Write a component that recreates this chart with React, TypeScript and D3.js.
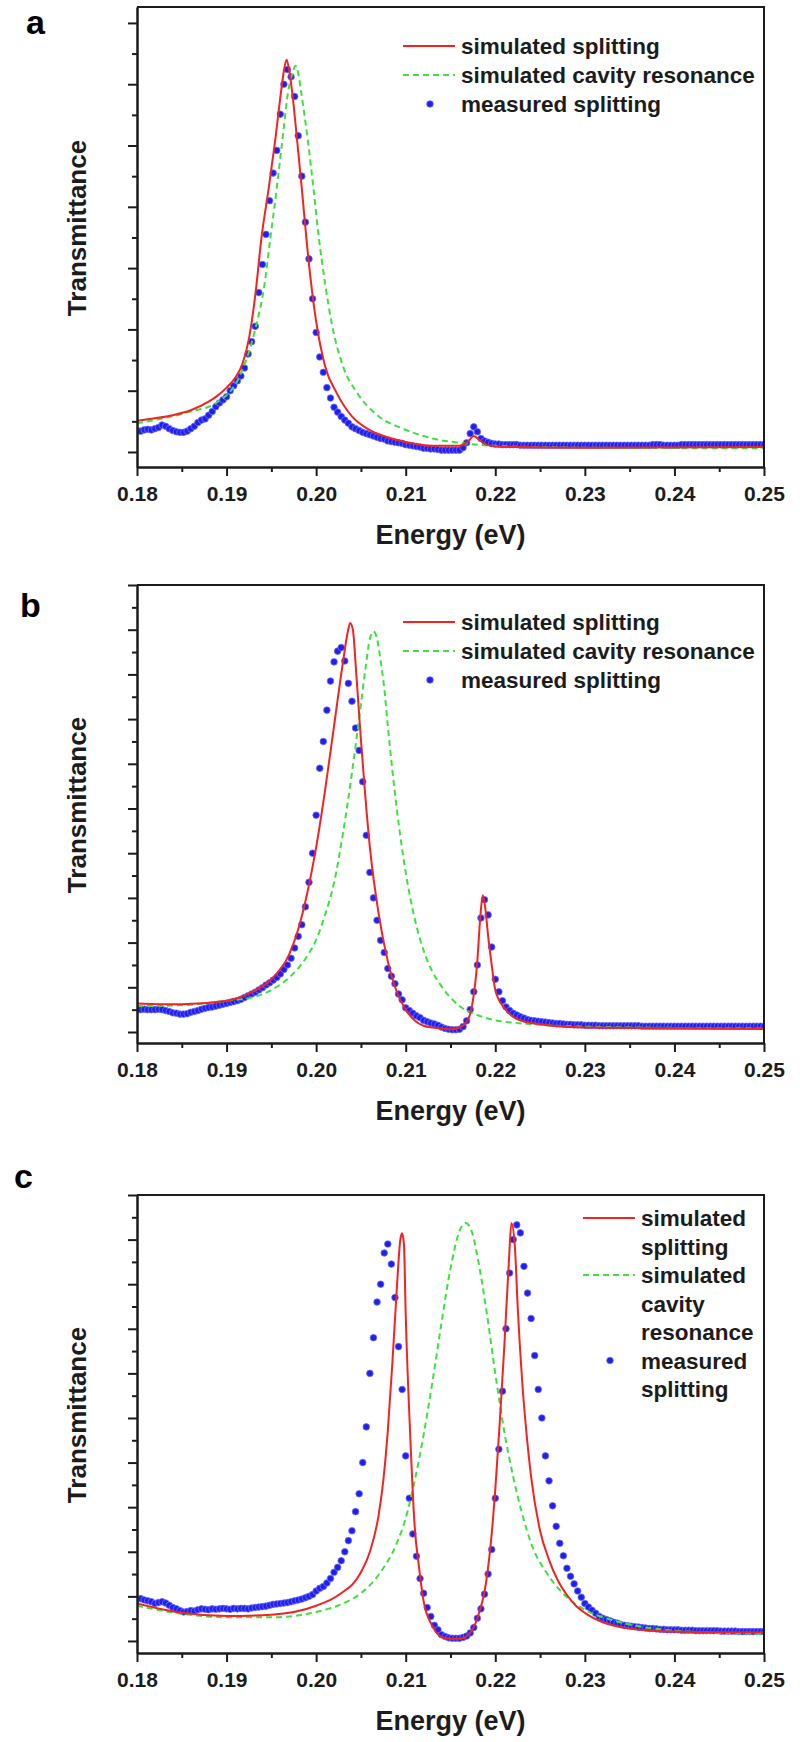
import React, { useRef, useEffect } from 'react';
import * as d3 from 'd3';

// FTIR sampling grid shared by the three measured spectra (eV)
const measuredEnergy = [
  0.1800, 0.1804, 0.1808, 0.1812, 0.1816, 0.1820, 0.1824, 0.1828, 0.1832, 0.1836,
  0.1840, 0.1844, 0.1848, 0.1852, 0.1856, 0.1860, 0.1864, 0.1868, 0.1872, 0.1876,
  0.1880, 0.1884, 0.1888, 0.1892, 0.1896, 0.1900, 0.1904, 0.1908, 0.1912, 0.1916,
  0.1920, 0.1924, 0.1928, 0.1932, 0.1936, 0.1940, 0.1944, 0.1948, 0.1952, 0.1956,
  0.1960, 0.1964, 0.1968, 0.1972, 0.1976, 0.1980, 0.1984, 0.1988, 0.1992, 0.1996,
  0.2000, 0.2004, 0.2008, 0.2012, 0.2016, 0.2020, 0.2024, 0.2028, 0.2032, 0.2036,
  0.2040, 0.2044, 0.2048, 0.2052, 0.2056, 0.2060, 0.2064, 0.2068, 0.2072, 0.2076,
  0.2080, 0.2084, 0.2088, 0.2092, 0.2096, 0.2100, 0.2104, 0.2108, 0.2112, 0.2116,
  0.2120, 0.2124, 0.2128, 0.2132, 0.2136, 0.2140, 0.2144, 0.2148, 0.2152, 0.2156,
  0.2160, 0.2164, 0.2168, 0.2172, 0.2176, 0.2180, 0.2184, 0.2188, 0.2192, 0.2196,
  0.2200, 0.2204, 0.2208, 0.2212, 0.2216, 0.2220, 0.2224, 0.2228, 0.2232, 0.2236,
  0.2240, 0.2244, 0.2248, 0.2252, 0.2256, 0.2260, 0.2264, 0.2268, 0.2272, 0.2276,
  0.2280, 0.2284, 0.2288, 0.2292, 0.2296, 0.2300, 0.2304, 0.2308, 0.2312, 0.2316,
  0.2320, 0.2324, 0.2328, 0.2332, 0.2336, 0.2340, 0.2344, 0.2348, 0.2352, 0.2356,
  0.2360, 0.2364, 0.2368, 0.2372, 0.2376, 0.2380, 0.2384, 0.2388, 0.2392, 0.2396,
  0.2400, 0.2404, 0.2408, 0.2412, 0.2416, 0.2420, 0.2424, 0.2428, 0.2432, 0.2436,
  0.2440, 0.2444, 0.2448, 0.2452, 0.2456, 0.2460, 0.2464, 0.2468, 0.2472, 0.2476,
  0.2480, 0.2484, 0.2488, 0.2492, 0.2496, 0.2500,
];

// measured transmittance, panel a
const measuredA = [
  0.035, 0.034, 0.036, 0.037, 0.036, 0.038, 0.040, 0.044, 0.042, 0.038,
  0.035, 0.033, 0.032, 0.032, 0.034, 0.038, 0.042, 0.048, 0.052, 0.054,
  0.060, 0.066, 0.074, 0.080, 0.085, 0.090, 0.100, 0.108, 0.116, 0.124,
  0.137, 0.160, 0.180, 0.205, 0.260, 0.306, 0.355, 0.410, 0.455, 0.492,
  0.551, 0.600, 0.624, 0.612, 0.580, 0.516, 0.450, 0.375, 0.315, 0.250,
  0.195, 0.155, 0.130, 0.105, 0.088, 0.073, 0.065, 0.058, 0.052, 0.047,
  0.041, 0.038, 0.035, 0.032, 0.030, 0.028, 0.026, 0.024, 0.022, 0.021,
  0.018, 0.017, 0.016, 0.015, 0.014, 0.012, 0.011, 0.010, 0.009, 0.008,
  0.006, 0.006, 0.005, 0.005, 0.004, 0.003, 0.003, 0.003, 0.003, 0.003,
  0.003, 0.007, 0.015, 0.030, 0.041, 0.033, 0.022, 0.018, 0.016, 0.014,
  0.013, 0.013, 0.012, 0.012, 0.012, 0.012, 0.012, 0.011, 0.011, 0.011,
  0.011, 0.011, 0.011, 0.011, 0.011, 0.011, 0.011, 0.011, 0.011, 0.011,
  0.011, 0.011, 0.011, 0.011, 0.011, 0.011, 0.011, 0.011, 0.011, 0.011,
  0.011, 0.011, 0.011, 0.011, 0.011, 0.011, 0.011, 0.011, 0.011, 0.011,
  0.011, 0.011, 0.011, 0.011, 0.012, 0.012, 0.012, 0.011, 0.011, 0.011,
  0.011, 0.011, 0.012, 0.012, 0.012, 0.012, 0.012, 0.012, 0.012, 0.012,
  0.012, 0.012, 0.012, 0.012, 0.012, 0.012, 0.012, 0.012, 0.012, 0.012,
  0.012, 0.012, 0.012, 0.012, 0.012, 0.012,
];

// measured transmittance, panel b
const measuredB = [
  0.050, 0.050, 0.051, 0.050, 0.050, 0.050, 0.051, 0.050, 0.048, 0.046,
  0.043, 0.042, 0.040, 0.040, 0.041, 0.044, 0.046, 0.048, 0.051, 0.053,
  0.055, 0.056, 0.058, 0.060, 0.062, 0.064, 0.066, 0.068, 0.070, 0.073,
  0.077, 0.081, 0.085, 0.089, 0.094, 0.099, 0.105, 0.110, 0.116, 0.122,
  0.130, 0.140, 0.150, 0.165, 0.188, 0.214, 0.240, 0.280, 0.335, 0.400,
  0.485, 0.590, 0.650, 0.720, 0.785, 0.828, 0.852, 0.860, 0.830, 0.780,
  0.740, 0.680, 0.630, 0.560, 0.440, 0.357, 0.300, 0.250, 0.205, 0.178,
  0.142, 0.125, 0.108, 0.085, 0.072, 0.054, 0.048, 0.042, 0.036, 0.032,
  0.026, 0.023, 0.020, 0.018, 0.015, 0.011, 0.008, 0.006, 0.005, 0.005,
  0.006, 0.012, 0.025, 0.050, 0.090, 0.150, 0.255, 0.296, 0.262, 0.190,
  0.118, 0.090, 0.070, 0.056, 0.048, 0.042, 0.038, 0.034, 0.031, 0.028,
  0.026, 0.025, 0.024, 0.023, 0.022, 0.021, 0.020, 0.019, 0.019, 0.018,
  0.017, 0.017, 0.016, 0.016, 0.016, 0.015, 0.015, 0.015, 0.015, 0.014,
  0.014, 0.014, 0.014, 0.014, 0.014, 0.014, 0.014, 0.014, 0.014, 0.014,
  0.014, 0.013, 0.013, 0.013, 0.013, 0.013, 0.013, 0.013, 0.013, 0.013,
  0.013, 0.013, 0.013, 0.013, 0.013, 0.013, 0.013, 0.013, 0.013, 0.013,
  0.013, 0.013, 0.013, 0.013, 0.013, 0.013, 0.013, 0.013, 0.013, 0.013,
  0.013, 0.013, 0.013, 0.013, 0.013, 0.013,
];

// measured transmittance, panel c
const measuredC = [
  0.093, 0.095, 0.092, 0.090, 0.088, 0.084, 0.086, 0.088, 0.085, 0.080,
  0.075, 0.072, 0.068, 0.065, 0.066, 0.068, 0.067, 0.070, 0.072, 0.071,
  0.070, 0.072, 0.071, 0.072, 0.073, 0.072, 0.071, 0.073, 0.072, 0.073,
  0.073, 0.072, 0.074, 0.075, 0.076, 0.077, 0.078, 0.080, 0.082, 0.083,
  0.084, 0.085, 0.086, 0.088, 0.090, 0.092, 0.094, 0.097, 0.100, 0.104,
  0.112, 0.118, 0.122, 0.130, 0.140, 0.154, 0.165, 0.180, 0.200, 0.225,
  0.247, 0.290, 0.330, 0.400, 0.480, 0.600, 0.680, 0.760, 0.800, 0.870,
  0.890, 0.845, 0.770, 0.660, 0.564, 0.415, 0.320, 0.240, 0.190, 0.140,
  0.107, 0.075, 0.055, 0.035, 0.025, 0.014, 0.010, 0.007, 0.006, 0.006,
  0.006, 0.008, 0.011, 0.018, 0.030, 0.051, 0.072, 0.105, 0.150, 0.205,
  0.320, 0.430, 0.560, 0.700, 0.825, 0.900, 0.933, 0.915, 0.840, 0.780,
  0.723, 0.640, 0.564, 0.500, 0.415, 0.359, 0.303, 0.257, 0.219, 0.191,
  0.163, 0.145, 0.128, 0.112, 0.098, 0.084, 0.076, 0.069, 0.062, 0.055,
  0.051, 0.048, 0.045, 0.042, 0.040, 0.037, 0.035, 0.034, 0.033, 0.032,
  0.031, 0.030, 0.029, 0.028, 0.028, 0.027, 0.026, 0.026, 0.025, 0.025,
  0.025, 0.025, 0.024, 0.024, 0.024, 0.024, 0.023, 0.023, 0.023, 0.023,
  0.023, 0.023, 0.023, 0.022, 0.022, 0.022, 0.022, 0.022, 0.021, 0.021,
  0.021, 0.021, 0.021, 0.021, 0.021, 0.021,
];

// simulated splitting (red) and bare cavity resonance (green), panel a
const splitA_E = [0.1800, 0.1820, 0.1840, 0.1860, 0.1880, 0.1890, 0.1900, 0.1910, 0.1918, 0.1925, 0.1932, 0.1939, 0.1947, 0.1954, 0.1961, 0.1964, 0.1967, 0.1970, 0.1973, 0.1979, 0.1984, 0.1989, 0.1994, 0.2000, 0.2010, 0.2023, 0.2040, 0.2057, 0.2080, 0.2103, 0.2130, 0.2160, 0.2170, 0.2176, 0.2182, 0.2190, 0.2200, 0.2300, 0.2500];
const splitA_T = [0.051, 0.055, 0.060, 0.068, 0.082, 0.092, 0.105, 0.122, 0.145, 0.185, 0.255, 0.350, 0.430, 0.505, 0.590, 0.622, 0.640, 0.622, 0.590, 0.505, 0.430, 0.350, 0.280, 0.213, 0.140, 0.096, 0.058, 0.038, 0.024, 0.015, 0.010, 0.010, 0.018, 0.026, 0.020, 0.012, 0.009, 0.007, 0.008];
const cavA_E = [0.1800, 0.1830, 0.1860, 0.1887, 0.1915, 0.1932, 0.1942, 0.1949, 0.1956, 0.1962, 0.1969, 0.1973, 0.1977, 0.1980, 0.1983, 0.1991, 0.1997, 0.2003, 0.2010, 0.2017, 0.2030, 0.2046, 0.2070, 0.2097, 0.2130, 0.2160, 0.2200, 0.2300, 0.2500];
const cavA_T = [0.047, 0.055, 0.066, 0.079, 0.125, 0.200, 0.270, 0.350, 0.430, 0.505, 0.590, 0.615, 0.630, 0.618, 0.590, 0.505, 0.430, 0.350, 0.275, 0.213, 0.140, 0.096, 0.058, 0.038, 0.022, 0.015, 0.010, 0.007, 0.006];

// panel b
const splitB_E = [0.1800, 0.1850, 0.1900, 0.1925, 0.1950, 0.1970, 0.1980, 0.1990, 0.2000, 0.2010, 0.2020, 0.2030, 0.2035, 0.2038, 0.2041, 0.2045, 0.2050, 0.2055, 0.2060, 0.2070, 0.2080, 0.2090, 0.2100, 0.2110, 0.2120, 0.2130, 0.2140, 0.2150, 0.2160, 0.2170, 0.2175, 0.2180, 0.2183, 0.2186, 0.2189, 0.2192, 0.2196, 0.2200, 0.2210, 0.2220, 0.2240, 0.2300, 0.2500];
const splitB_T = [0.064, 0.062, 0.070, 0.086, 0.118, 0.174, 0.230, 0.310, 0.413, 0.541, 0.685, 0.828, 0.892, 0.915, 0.900, 0.796, 0.653, 0.525, 0.413, 0.262, 0.158, 0.090, 0.050, 0.026, 0.014, 0.010, 0.008, 0.006, 0.010, 0.030, 0.070, 0.160, 0.250, 0.306, 0.275, 0.215, 0.150, 0.094, 0.054, 0.034, 0.020, 0.010, 0.007];
const cavB_E = [0.1800, 0.1850, 0.1900, 0.1930, 0.1950, 0.1970, 0.1990, 0.2000, 0.2010, 0.2020, 0.2030, 0.2040, 0.2050, 0.2055, 0.2060, 0.2064, 0.2068, 0.2072, 0.2076, 0.2080, 0.2090, 0.2100, 0.2110, 0.2120, 0.2130, 0.2140, 0.2160, 0.2180, 0.2200, 0.2220, 0.2250, 0.2300, 0.2500];
const cavB_T = [0.058, 0.060, 0.070, 0.078, 0.094, 0.122, 0.170, 0.206, 0.262, 0.334, 0.445, 0.580, 0.733, 0.812, 0.880, 0.896, 0.880, 0.830, 0.770, 0.685, 0.500, 0.357, 0.254, 0.182, 0.134, 0.102, 0.058, 0.038, 0.026, 0.021, 0.016, 0.012, 0.008];

// panel c
const splitC_E = [0.1800, 0.1850, 0.1900, 0.1950, 0.2000, 0.2025, 0.2050, 0.2060, 0.2070, 0.2075, 0.2080, 0.2085, 0.2090, 0.2094, 0.2096, 0.2098, 0.2100, 0.2105, 0.2110, 0.2115, 0.2120, 0.2130, 0.2140, 0.2150, 0.2160, 0.2170, 0.2180, 0.2190, 0.2195, 0.2200, 0.2205, 0.2210, 0.2215, 0.2218, 0.2222, 0.2225, 0.2230, 0.2235, 0.2240, 0.2250, 0.2260, 0.2270, 0.2280, 0.2290, 0.2300, 0.2320, 0.2350, 0.2400, 0.2500];
const splitC_T = [0.084, 0.063, 0.056, 0.059, 0.079, 0.103, 0.154, 0.200, 0.285, 0.360, 0.471, 0.620, 0.788, 0.900, 0.914, 0.890, 0.732, 0.462, 0.257, 0.163, 0.089, 0.033, 0.009, 0.005, 0.005, 0.014, 0.051, 0.135, 0.219, 0.340, 0.490, 0.658, 0.844, 0.937, 0.880, 0.750, 0.583, 0.462, 0.368, 0.247, 0.182, 0.135, 0.103, 0.079, 0.063, 0.042, 0.028, 0.021, 0.019];
const cavC_E = [0.1800, 0.1850, 0.1900, 0.1950, 0.2000, 0.2030, 0.2050, 0.2070, 0.2090, 0.2100, 0.2110, 0.2120, 0.2130, 0.2140, 0.2150, 0.2160, 0.2167, 0.2175, 0.2180, 0.2190, 0.2200, 0.2210, 0.2220, 0.2230, 0.2240, 0.2260, 0.2280, 0.2300, 0.2330, 0.2360, 0.2400, 0.2500];
const cavC_T = [0.079, 0.061, 0.053, 0.053, 0.065, 0.084, 0.107, 0.149, 0.219, 0.275, 0.359, 0.462, 0.583, 0.714, 0.835, 0.919, 0.937, 0.910, 0.863, 0.742, 0.600, 0.470, 0.368, 0.285, 0.219, 0.145, 0.098, 0.070, 0.047, 0.033, 0.023, 0.016];

const xMajorTicks = [0.18, 0.19, 0.2, 0.21, 0.22, 0.23, 0.24, 0.25];
const xMinorTicks = [0.185, 0.195, 0.205, 0.215, 0.225, 0.235, 0.245];
const yMajorShort = [0, 0.1, 0.2, 0.3, 0.4, 0.5, 0.6, 0.7];
const yMinorShort = [0.05, 0.15, 0.25, 0.35, 0.45, 0.55, 0.65];
const yMajorFull = [0, 0.1, 0.2, 0.3, 0.4, 0.5, 0.6, 0.7, 0.8, 0.9, 1.0];
const yMinorFull = [0.05, 0.15, 0.25, 0.35, 0.45, 0.55, 0.65, 0.75, 0.85, 0.95];

const legendWide = [['simulated splitting'], ['simulated cavity resonance'], ['measured splitting']];
const legendNarrow = [['simulated', 'splitting'], ['simulated', 'cavity', 'resonance'], ['measured', 'splitting']];

const FONT = '"Liberation Sans", Arial, sans-serif';
const INK = '#1c1c1c';
const RED = '#f52222';
const GREEN = '#3ee23e';
const BLUE = '#2020ee';
const PLOT_LEFT = 137;
const PLOT_RIGHT = 764;

const panels = [
  {
    id: 'a', top: 7, bottom: 467, yDomain: [-0.0245, 0.726],
    yMajor: yMajorShort, yMinor: yMinorShort,
    measured: measuredA, splitE: splitA_E, splitT: splitA_T, cavE: cavA_E, cavT: cavA_T,
    legend: legendWide, legendX: 403, legendY: 46, legendStep: 29, letterX: 26, letterY: 34,
  },
  {
    id: 'b', top: 585, bottom: 1043, yDomain: [-0.0246, 1.0],
    yMajor: yMajorFull, yMinor: yMinorFull,
    measured: measuredB, splitE: splitB_E, splitT: splitB_T, cavE: cavB_E, cavT: cavB_T,
    legend: legendWide, legendX: 403, legendY: 622, legendStep: 29, letterX: 20, letterY: 617,
  },
  {
    id: 'c', top: 1195, bottom: 1653, yDomain: [-0.027, 1.0],
    yMajor: yMajorFull, yMinor: yMinorFull,
    measured: measuredC, splitE: splitC_E, splitT: splitC_T, cavE: cavC_E, cavT: cavC_T,
    legend: legendNarrow, legendX: 583, legendY: 1218, legendStep: 28.5, letterX: 14, letterY: 1188,
  },
];

function styleAxis(axisG, withText) {
  axisG.attr('font-family', FONT);
  axisG.select('.domain').attr('stroke', INK).attr('stroke-width', 2);
  axisG.selectAll('.tick line').attr('stroke', INK).attr('stroke-width', 2);
  if (withText) {
    axisG.selectAll('.tick text')
      .attr('fill', INK)
      .style('font-size', '21px')
      .style('font-weight', 'bold');
  }
}

function drawPanel(svg, p) {
  const x = d3.scaleLinear().domain([0.18, 0.25]).range([PLOT_LEFT, PLOT_RIGHT]);
  const y = d3.scaleLinear().domain(p.yDomain).range([p.bottom, p.top]);
  const g = svg.append('g');

  // Clip traces to the frame
  const clipId = `clip-${p.id}`;
  g.append('clipPath').attr('id', clipId)
    .append('rect')
    .attr('x', PLOT_LEFT).attr('y', p.top)
    .attr('width', PLOT_RIGHT - PLOT_LEFT).attr('height', p.bottom - p.top);
  const plot = g.append('g').attr('clip-path', `url(#${clipId})`);

  // Measured points
  plot.selectAll('circle')
    .data(measuredEnergy.map((e, i) => [e, p.measured[i]]))
    .join('circle')
    .attr('cx', d => x(d[0]))
    .attr('cy', d => y(d[1]))
    .attr('r', 3.3)
    .attr('fill', BLUE)
    .attr('stroke', '#6d6dff')
    .attr('stroke-width', 0.8);

  const line = d3.line()
    .x(d => x(d[0]))
    .y(d => y(d[1]))
    .curve(d3.curveMonotoneX);

  // Bare cavity resonance
  plot.append('path')
    .datum(d3.zip(p.cavE, p.cavT))
    .attr('fill', 'none')
    .attr('stroke', GREEN)
    .attr('stroke-width', 2)
    .attr('stroke-dasharray', '6,4')
    .attr('d', line);

  // Simulated splitting
  plot.append('path')
    .datum(d3.zip(p.splitE, p.splitT))
    .attr('fill', 'none')
    .attr('stroke', RED)
    .attr('stroke-width', 2)
    .attr('d', line);

  // Frame: top and right edges
  g.append('path')
    .attr('d', `M${PLOT_LEFT},${p.top}H${PLOT_RIGHT}V${p.bottom}`)
    .attr('fill', 'none')
    .attr('stroke', INK)
    .attr('stroke-width', 2);

  // x axis
  const xMinor = g.append('g')
    .attr('transform', `translate(0,${p.bottom})`)
    .call(d3.axisBottom(x).tickValues(xMinorTicks).tickSize(5).tickSizeOuter(0).tickFormat(() => ''));
  styleAxis(xMinor, false);
  const xMajor = g.append('g')
    .attr('transform', `translate(0,${p.bottom})`)
    .call(d3.axisBottom(x).tickValues(xMajorTicks).tickSize(9).tickSizeOuter(0).tickPadding(10).tickFormat(d3.format('.2f')));
  styleAxis(xMajor, true);

  // y axis, ticks only
  const yMinor = g.append('g')
    .attr('transform', `translate(${PLOT_LEFT},0)`)
    .call(d3.axisLeft(y).tickValues(p.yMinor).tickSize(5).tickSizeOuter(0).tickFormat(() => ''));
  styleAxis(yMinor, false);
  const yMajor = g.append('g')
    .attr('transform', `translate(${PLOT_LEFT},0)`)
    .call(d3.axisLeft(y).tickValues(p.yMajor).tickSize(9).tickSizeOuter(0).tickFormat(() => ''));
  styleAxis(yMajor, false);

  // Axis titles
  g.append('text')
    .attr('x', (PLOT_LEFT + PLOT_RIGHT) / 2)
    .attr('y', p.bottom + 77)
    .attr('text-anchor', 'middle')
    .attr('fill', INK)
    .style('font-family', FONT)
    .style('font-size', '27px')
    .style('font-weight', 'bold')
    .text('Energy (eV)');

  g.append('text')
    .attr('transform', `translate(86,${(p.top + p.bottom) / 2 - 9}) rotate(-90)`)
    .attr('text-anchor', 'middle')
    .attr('fill', INK)
    .style('font-family', FONT)
    .style('font-size', '26px')
    .style('font-weight', 'bold')
    .text('Transmittance');

  // Panel letter
  g.append('text')
    .attr('x', p.letterX)
    .attr('y', p.letterY)
    .attr('fill', '#000')
    .style('font-family', FONT)
    .style('font-size', '34px')
    .style('font-weight', 'bold')
    .text(p.id);

  // Legend
  const legend = g.append('g');
  let row = 0;
  p.legend.forEach((lines, i) => {
    const cy = p.legendY + row * p.legendStep;
    if (i === 0) {
      legend.append('line')
        .attr('x1', p.legendX).attr('x2', p.legendX + 52)
        .attr('y1', cy).attr('y2', cy)
        .attr('stroke', RED).attr('stroke-width', 2);
    } else if (i === 1) {
      legend.append('line')
        .attr('x1', p.legendX).attr('x2', p.legendX + 52)
        .attr('y1', cy).attr('y2', cy)
        .attr('stroke', GREEN).attr('stroke-width', 2)
        .attr('stroke-dasharray', '6,4');
    } else {
      legend.append('circle')
        .attr('cx', p.legendX + 27).attr('cy', cy)
        .attr('r', 3.3)
        .attr('fill', BLUE)
        .attr('stroke', '#6d6dff')
        .attr('stroke-width', 0.8);
    }
    lines.forEach(txt => {
      legend.append('text')
        .attr('x', p.legendX + 58)
        .attr('y', p.legendY + row * p.legendStep)
        .attr('dy', '0.36em')
        .attr('fill', INK)
        .style('font-family', FONT)
        .style('font-size', '22.5px')
        .style('font-weight', 'bold')
        .text(txt);
      row += 1;
    });
  });
}

export default function App() {
  const svgRef = useRef(null);

  useEffect(() => {
    const svg = d3.select(svgRef.current);
    svg.selectAll('*').remove();
    panels.forEach(p => drawPanel(svg, p));
  }, []);

  return (
    <svg
      ref={svgRef}
      width={800}
      height={1742}
      style={{ position: 'absolute', left: 0, top: 0, background: '#fff' }}
    />
  );
}
